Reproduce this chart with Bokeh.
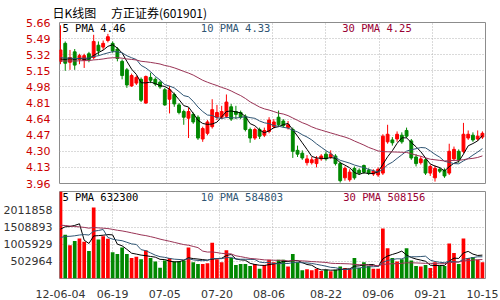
import numpy as np
import pandas as pd
from bokeh.plotting import figure
from bokeh.layouts import column
from bokeh.models import (FixedTicker, Range1d, Label, ColumnDataSource, Grid,
                          PrintfTickFormatter)
from bokeh.embed import file_html
from bokeh.resources import INLINE

# ---------------- data ----------------
title_text = "日K线图　 方正证券(601901)"

open_ = [
    5.25, 5.44, 5.24, 5.35, 5.27, 5.26, 5.33, 5.29, 5.42, 5.40,
    5.47, 5.44, 5.38, 5.25, 5.16, 4.99, 5.02, 5.06, 4.81, 5.08,
    5.06, 5.03, 4.95, 4.85, 4.90, 4.79, 4.72, 4.65, 4.69, 4.66,
    4.43, 4.49, 4.56, 4.66, 4.66, 4.67, 4.77, 4.72, 4.71, 4.67,
    4.53, 4.44, 4.53, 4.47, 4.51, 4.56, 4.66, 4.62, 4.55, 4.53,
    4.31, 4.28, 4.18, 4.18, 4.17, 4.22, 4.27, 4.24, 4.25, 4.17,
    4.02, 4.00, 4.12, 4.10, 4.15, 4.10, 4.06, 4.05, 4.07, 4.40,
    4.42, 4.43, 4.47, 4.52, 4.41, 4.24, 4.18, 4.21, 4.07, 4.02,
    4.11, 4.10, 4.07, 4.22, 4.30, 4.30, 4.44, 4.47, 4.43, 4.45,
]
high = [
    5.63, 5.46, 5.37, 5.38, 5.33, 5.33, 5.35, 5.53, 5.46, 5.47,
    5.54, 5.46, 5.40, 5.27, 5.18, 5.12, 5.10, 5.08, 5.10, 5.13,
    5.08, 5.05, 4.97, 4.99, 4.92, 4.81, 4.74, 4.76, 4.71, 4.68,
    4.56, 4.63, 4.85, 4.79, 4.78, 4.90, 4.80, 4.78, 4.73, 4.69,
    4.55, 4.55, 4.55, 4.55, 4.66, 4.64, 4.73, 4.64, 4.62, 4.55,
    4.36, 4.31, 4.26, 4.24, 4.25, 4.27, 4.30, 4.31, 4.27, 4.19,
    4.14, 4.11, 4.14, 4.12, 4.16, 4.12, 4.11, 4.13, 4.48, 4.58,
    4.45, 4.51, 4.50, 4.55, 4.43, 4.27, 4.25, 4.23, 4.16, 4.15,
    4.13, 4.12, 4.38, 4.35, 4.32, 4.60, 4.52, 4.50, 4.52, 4.51,
]
low = [
    5.22, 5.15, 5.16, 5.16, 5.22, 5.18, 5.24, 5.27, 5.31, 5.37,
    5.45, 5.34, 5.25, 5.06, 4.97, 4.98, 5.00, 4.82, 4.80, 5.02,
    4.99, 4.96, 4.78, 4.70, 4.77, 4.69, 4.58, 4.44, 4.59, 4.42,
    4.40, 4.47, 4.54, 4.63, 4.64, 4.65, 4.62, 4.64, 4.64, 4.51,
    4.39, 4.42, 4.43, 4.45, 4.49, 4.54, 4.56, 4.55, 4.53, 4.23,
    4.24, 4.21, 4.15, 4.16, 4.13, 4.20, 4.20, 4.22, 4.15, 3.97,
    3.99, 3.98, 4.00, 4.05, 4.06, 4.05, 4.04, 4.03, 4.05, 4.38,
    4.36, 4.40, 4.38, 4.44, 4.21, 4.14, 4.16, 4.05, 4.04, 3.98,
    4.07, 4.02, 4.05, 4.20, 4.18, 4.28, 4.42, 4.40, 4.41, 4.43,
]
close = [
    5.37, 5.23, 5.29, 5.21, 5.31, 5.31, 5.27, 5.46, 5.36, 5.44,
    5.51, 5.36, 5.28, 5.10, 5.00, 5.10, 5.08, 4.84, 5.09, 5.05,
    5.01, 4.98, 4.79, 4.95, 4.80, 4.71, 4.66, 4.72, 4.61, 4.44,
    4.54, 4.61, 4.74, 4.71, 4.72, 4.82, 4.64, 4.69, 4.66, 4.53,
    4.44, 4.53, 4.46, 4.52, 4.63, 4.61, 4.58, 4.57, 4.58, 4.30,
    4.27, 4.23, 4.22, 4.21, 4.22, 4.25, 4.22, 4.27, 4.17, 3.99,
    4.12, 4.08, 4.02, 4.07, 4.08, 4.07, 4.09, 4.11, 4.46, 4.48,
    4.39, 4.48, 4.40, 4.46, 4.23, 4.17, 4.22, 4.07, 4.14, 4.12,
    4.09, 4.04, 4.30, 4.32, 4.21, 4.48, 4.48, 4.42, 4.46, 4.49,
]
volume = [
    3500000, 1290000, 980000, 1100000, 1180000, 1080000, 810000, 2090000, 1150000, 1240000,
    1170000, 770000, 720000, 910000, 720000, 600000, 640000, 570000, 830000, 600000,
    500000, 320000, 530000, 600000, 500000, 510000, 530000, 910000, 480000, 430000,
    430000, 450000, 1050000, 570000, 480000, 830000, 600000, 400000, 430000, 430000,
    370000, 430000, 290000, 400000, 550000, 480000, 550000, 550000, 350000, 720000,
    480000, 240000, 270000, 240000, 290000, 220000, 260000, 210000, 260000, 350000,
    310000, 290000, 600000, 310000, 480000, 370000, 290000, 290000, 1470000, 890000,
    600000, 500000, 570000, 890000, 530000, 370000, 350000, 400000, 310000, 480000,
    370000, 370000, 1030000, 750000, 430000, 1180000, 600000, 630000, 550000, 480000,
]

tick_index = [0, 11, 22, 33, 44, 56, 67, 78, 89]
tick_labels = ["12-06-04", "06-19", "07-05", "07-20", "08-06",
               "08-22", "09-06", "09-21", "10-15"]
price_ticks = [3.96, 4.13, 4.30, 4.47, 4.64, 4.81, 4.98, 5.15, 5.32, 5.49, 5.66]
volume_ticks = [502964, 1005929, 1508893, 2011858]

ma_windows = [5, 10, 30]
price_ma_start = [5.25, 5.28, 5.25]
volume_ma_start = [940000, 950000, 1500000]
price_legend = ["5 PMA 4.46", "10 PMA 4.33", "30 PMA 4.25"]
volume_legend = ["5 PMA 632300", "10 PMA 584803", "30 PMA 508156"]

# ---------------- style ----------------
RED = "#ff0000"
GREEN = "#008800"
MA_COLORS = ["#000000", "#2f5573", "#993355"]
LEGEND_COLORS = ["#000000", "#2f5573", "#990033"]
GRID_COLOR = "#b4b4b4"
FRAME_COLOR = "#8c8c8c"
FONT = "DejaVu Sans"


def moving_average(values, n, start):
    s = pd.Series([start] * (n - 1) + list(values), dtype=float)
    return s.rolling(n).mean().iloc[n - 1:].to_numpy()


idx = np.arange(len(close))
o = np.array(open_)
c = np.array(close)
colors = [RED if cc >= oo else GREEN for oo, cc in zip(o, c)]

src = ColumnDataSource(dict(
    x=idx, high=high, low=low,
    top=np.maximum(o, c), bottom=np.minimum(o, c),
    vol=volume, color=colors,
))

FRAME_LEFT, FRAME_W = 51, 434
x_start, x_end = -0.21, 89.65
xr = Range1d(x_start, x_end)
grid_x = list(np.linspace(x_start, x_end, 9)[1:-1])


def px_to_x(px):
    return x_start + (px - FRAME_LEFT) * (x_end - x_start) / FRAME_W


def style_common(p):
    p.grid.visible = False
    p.add_layout(Grid(dimension=0, ticker=FixedTicker(ticks=grid_x),
                      grid_line_color=GRID_COLOR, grid_line_dash="1 2"))
    p.outline_line_color = FRAME_COLOR
    p.outline_line_width = 1
    for ax in p.yaxis:
        ax.axis_line_color = None
        ax.major_tick_line_color = None
        ax.minor_tick_line_color = None
        ax.major_label_text_font = FONT
        ax.major_label_text_font_size = "11px"


# ---------------- price panel ----------------
p1 = figure(width=500, height=191, x_range=xr, y_range=Range1d(3.96, 5.66),
            x_axis_location=None, output_backend="svg", toolbar_location=None,
            min_border_left=FRAME_LEFT, min_border_right=15,
            min_border_top=19, min_border_bottom=8)
style_common(p1)
p1.add_layout(Grid(dimension=1, ticker=FixedTicker(ticks=price_ticks),
                   grid_line_color=GRID_COLOR, grid_line_dash="1 2"))
p1.yaxis.ticker = FixedTicker(ticks=price_ticks)
p1.yaxis.formatter = PrintfTickFormatter(format="%.2f")
p1.yaxis.major_label_text_color = "#cc0000"
p1.yaxis.major_label_standoff = 3

p1.title.text = title_text
p1.title.text_font = "Noto Sans CJK SC"
p1.title.text_font_size = "12px"
p1.title.text_font_style = "normal"
p1.title.text_color = "#000000"
p1.title.offset = -7
p1.title.standoff = 3

p1.segment("x", "low", "x", "high", source=src, color="color", line_width=1)
p1.vbar(x="x", width=0.6, top="top", bottom="bottom", source=src,
        fill_color="color", line_color="color", line_width=1)

for n, s0, col in zip(ma_windows, price_ma_start, MA_COLORS):
    p1.line(idx, moving_average(close, n, s0), color=col, line_width=1)

py = 5.66 - (25 - 19) * (5.66 - 3.96) / 164
for txt, px, col in zip(price_legend, [54, 195, 339], LEGEND_COLORS):
    p1.add_layout(Label(x=px_to_x(px), y=py, text=txt, text_color=col,
                        text_font="DejaVu Sans Mono", text_font_size="10.5px",
                        text_baseline="middle"))

# ---------------- volume panel ----------------
vtop = 2560000
p2 = figure(width=500, height=109, x_range=xr, y_range=Range1d(0, vtop),
            output_backend="svg", toolbar_location=None,
            min_border_left=FRAME_LEFT, min_border_right=15,
            min_border_top=0, min_border_bottom=21)
style_common(p2)
p2.add_layout(Grid(dimension=1, ticker=FixedTicker(ticks=volume_ticks),
                   grid_line_color=GRID_COLOR, grid_line_dash="1 2"))
p2.yaxis.ticker = FixedTicker(ticks=volume_ticks)
p2.yaxis.formatter = PrintfTickFormatter(format="%d")
p2.yaxis.major_label_text_color = "#333333"
p2.yaxis.major_label_standoff = 1

p2.xaxis.ticker = FixedTicker(ticks=tick_index)
p2.xaxis.major_label_overrides = {i: t for i, t in zip(tick_index, tick_labels)}
p2.xaxis.axis_line_color = None
p2.xaxis.major_tick_line_color = None
p2.xaxis.minor_tick_line_color = None
p2.xaxis.major_label_text_font = FONT
p2.xaxis.major_label_text_font_size = "11px"
p2.xaxis.major_label_text_color = "#333333"
p2.xaxis.major_label_standoff = 5

p2.vbar(x="x", width=0.78, top="vol", bottom=0, source=src,
        fill_color="color", line_color=None)

for n, s0, col in zip(ma_windows, volume_ma_start, MA_COLORS):
    p2.line(idx, moving_average(volume, n, s0), color=col, line_width=1)

vy = vtop - 6 / 88.5 * vtop
for txt, px, col in zip(volume_legend, [54, 195, 340], LEGEND_COLORS):
    p2.add_layout(Label(x=px_to_x(px), y=vy, text=txt, text_color=col,
                        text_font="DejaVu Sans Mono", text_font_size="10.5px",
                        text_baseline="middle"))

layout = column(p1, p2)
open("out.html", "w").write(file_html(layout, INLINE))
